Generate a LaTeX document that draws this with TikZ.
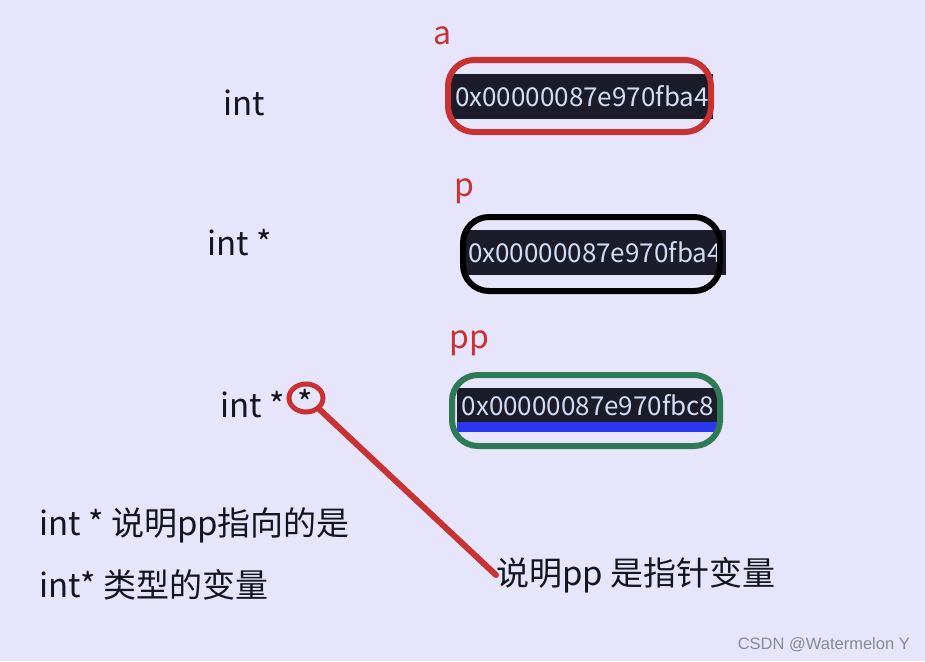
\documentclass[tikz,border=0pt]{standalone}
\usepackage{fontspec}
\usetikzlibrary{shapes.geometric}
\setmainfont{Noto Sans CJK SC}
\newfontfamily\wmfont{Liberation Sans}
\definecolor{bg}{HTML}{E6E5FB}
\definecolor{hexbg}{HTML}{1C1B29}
\definecolor{hexfg}{HTML}{D2DCF4}
\definecolor{myred}{HTML}{C93232}
\definecolor{mygreen}{HTML}{2E7A55}
\definecolor{myblue}{HTML}{2A36F0}
\definecolor{txt}{HTML}{15151F}
\definecolor{wmgray}{HTML}{8A8A96}
\tikzset{
  lbl/.style={font=\fontsize{33}{38}\selectfont, text=txt, inner sep=0pt},
  varlbl/.style={font=\fontsize{32}{36}\selectfont, text=myred, inner sep=0pt},
  hexbox/.style={fill=hexbg, text=hexfg, font=\fontsize{26}{30}\selectfont, inner sep=0pt, minimum height=45pt, minimum width=262pt},
  ring/.style={line width=6pt, rounded corners=26pt},
}
\begin{document}
\begin{tikzpicture}[x=1pt,y=-1pt]
\fill[bg] (0,0) rectangle (925,661);
\useasboundingbox (0,0) rectangle (925,661);
% left labels
\node[lbl] (t1) at (244,103) {int};
\node[lbl] (t2) at (240,243) {int *};
\node[lbl] (t3) at (253,405) {int *};
\node[lbl] (star) at (305,402) {*};
% variable labels
\node[varlbl] (va) at (443,36) {a};
\node[varlbl] (vp) at (464,191) {p};
\node[varlbl] (vpp) at (469,343) {pp};
% hex boxes
\node[hexbox] (h1) at (582,96) {0x00000087e970fba4};
\node[hexbox] (h2) at (595,252) {0x00000087e970fba4};
\node[hexbox, minimum height=34pt] (h3) at (588,405) {0x00000087e970fbc8};
\fill[myblue] (h3.south west) rectangle ([yshift=-10pt]h3.south east);
% rings
\draw[ring, myred] (448,60) rectangle (711,132);
\draw[ring, black] (463,217) rectangle (720,291);
\draw[ring, mygreen] (452,375) rectangle (720,446);
% circle around star
\node[draw=myred, line width=5pt, ellipse, minimum width=34pt, minimum height=28pt, inner sep=0pt] (circ) at (306,398) {};
% bottom texts
\node[lbl, anchor=west] (n1) at (39,525) {int * 说明pp指向的是};
\node[lbl, anchor=west] (n2) at (39,585) {int* 类型的变量};
\node[lbl, anchor=west] (n3) at (496,575) {说明pp 是指针变量};
\draw[myred, line width=6pt, line cap=round] (circ.south east) -- (n3.west);
% watermark
\node[font=\wmfont\fontsize{16.5}{19}\selectfont, text=wmgray, anchor=east, inner sep=0pt] (wm) at (910,645) {CSDN @Watermelon Y};
\end{tikzpicture}
\end{document}
